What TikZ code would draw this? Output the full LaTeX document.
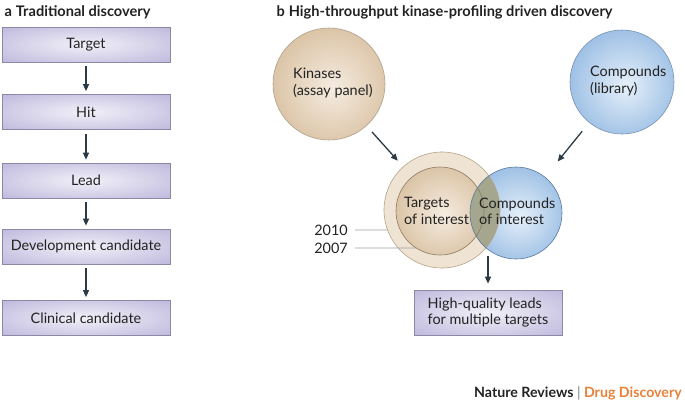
\documentclass[tikz,border=0pt]{standalone}
\usepackage{fontspec}
\setmainfont{Lato}
\usetikzlibrary{arrows.meta}
\definecolor{boxin}{HTML}{F2F0F8}
\definecolor{boxout}{HTML}{A9A3D2}
\definecolor{boxline}{HTML}{8C88A6}
\definecolor{tanin}{HTML}{F5ECE0}
\definecolor{tanout}{HTML}{C4A174}
\definecolor{tanline}{HTML}{8E785C}
\definecolor{ringfill}{HTML}{EFE4D3}
\definecolor{ringline}{HTML}{B5A286}
\definecolor{bluein}{HTML}{E6F0FA}
\definecolor{blueout}{HTML}{5E96D2}
\definecolor{blueline}{HTML}{56789E}
\definecolor{lens}{HTML}{A4A78E}
\definecolor{arrowc}{HTML}{2B3A45}
\definecolor{txt}{HTML}{222222}
\definecolor{orangeDD}{HTML}{E8813A}
\pgfdeclareradialshading{boxshade}{\pgfpoint{0bp}{0bp}}{color(0bp)=(boxin); color(50bp)=(boxout); color(70bp)=(boxout)}
\pgfdeclareradialshading{tanshade}{\pgfpoint{2bp}{-2bp}}{color(0bp)=(tanin); color(50bp)=(tanout)}
\pgfdeclareradialshading{blueshade}{\pgfpoint{2bp}{-2bp}}{color(0bp)=(bluein); color(50bp)=(blueout)}
\begin{document}
\begin{tikzpicture}[x=1pt,y=-1pt,
  font=\fontsize{14.4}{16.5}\selectfont, text=txt,
  stepbox/.style={draw=boxline, line width=0.7pt, shading=boxshade,
    minimum width=168pt, minimum height=35pt, inner sep=0pt},
  flow/.style={draw=arrowc, line width=1.3pt, -{Triangle[length=7pt,width=6pt]}},
  title/.style={font=\fontsize{14.6}{16}\selectfont\bfseries, anchor=west},
  blob/.style={circle, inner sep=0pt},
  lbl/.style={align=left, anchor=west, inner sep=0pt},
  tick/.style={draw=gray!75, line width=0.7pt}]
\useasboundingbox (0,0) rectangle (685,405);

% ---- panel a
\node[title] (ta) at (1,12) {a\hspace{4pt}Traditional discovery};
\node[stepbox] (target) at (86,44.5) {Target};
\node[stepbox] (hit) at (86,112) {Hit};
\node[stepbox] (lead) at (86,180.5) {Lead};
\node[stepbox] (dev) at (86,246.5) {Development candidate};
\node[stepbox] (clin) at (86,318) {Clinical candidate};
\draw[flow, shorten <=4pt, shorten >=3pt] (target) -- (hit);
\draw[flow, shorten <=4pt, shorten >=3pt] (hit) -- (lead);
\draw[flow, shorten <=4pt, shorten >=3pt] (lead) -- (dev);
\draw[flow, shorten <=4pt, shorten >=3pt] (dev) -- (clin);

% ---- panel b
\node[title] (tb) at (273,12) {b\hspace{4pt}High-throughput kinase-profiling driven discovery};

\node[blob, minimum size=112pt, draw=tanline!70, line width=0.6pt, shading=tanshade] (kin) at (329,84) {};
\node[lbl] (kint) at (293,83) {Kinases\\(assay panel)};
\node[blob, minimum size=104pt, draw=blueline!80, line width=0.6pt, shading=blueshade] (comp) at (622,82) {};
\node[lbl] (compt) at (590,81) {Compounds\\(library)};

% Venn
\node[blob, minimum size=116pt, fill=ringfill] (o2010) at (442,210) {};
\node[blob, minimum size=88pt, shading=tanshade] (i2007) at (440,211) {};
\node[blob, minimum size=92pt, shading=blueshade] (blue) at (516,213) {};
\begin{scope}
  \clip (516,213) circle (46pt);
  \fill[lens] (442,210) circle (58pt);
\end{scope}
\draw[ringline, line width=0.6pt] (o2010.center) circle (58pt);
\draw[tanline, line width=0.6pt] (i2007.center) circle (44pt);
\draw[blueline, line width=0.6pt] (blue.center) circle (46pt);

\node[lbl] (tgt) at (404,211) {Targets\\of interest};
\node[lbl] (cpi) at (479,211) {Compounds\\of interest};

\node[anchor=east, inner sep=0pt] (l2010) at (348,230) {2010};
\node[anchor=east, inner sep=0pt] (l2007) at (348,248) {2007};
\draw[tick] ([xshift=7pt]l2010.east) -- (o2010.200);
\draw[tick] ([xshift=7pt]l2007.east) -- (i2007.237);

\draw[flow, shorten <=8pt, shorten >=8pt] (kin) -- (o2010);
\draw[flow, shorten <=11pt, shorten >=20pt] (comp) -- (blue);

\node[stepbox, minimum width=148pt, minimum height=45pt, align=left] (hq) at (488,312.5) {High-quality leads\\for multiple targets};
\coordinate (lensb) at (488,256);
\draw[flow, shorten >=6pt] (lensb) -- (hq);

% footer
\node[anchor=east, inner sep=0pt, font=\fontsize{14.2}{16}\selectfont\bfseries] (foot) at (682,393)
  {Nature Reviews {\color{gray}\mdseries|} {\color{orangeDD}Drug Discovery}};
\end{tikzpicture}
\end{document}
